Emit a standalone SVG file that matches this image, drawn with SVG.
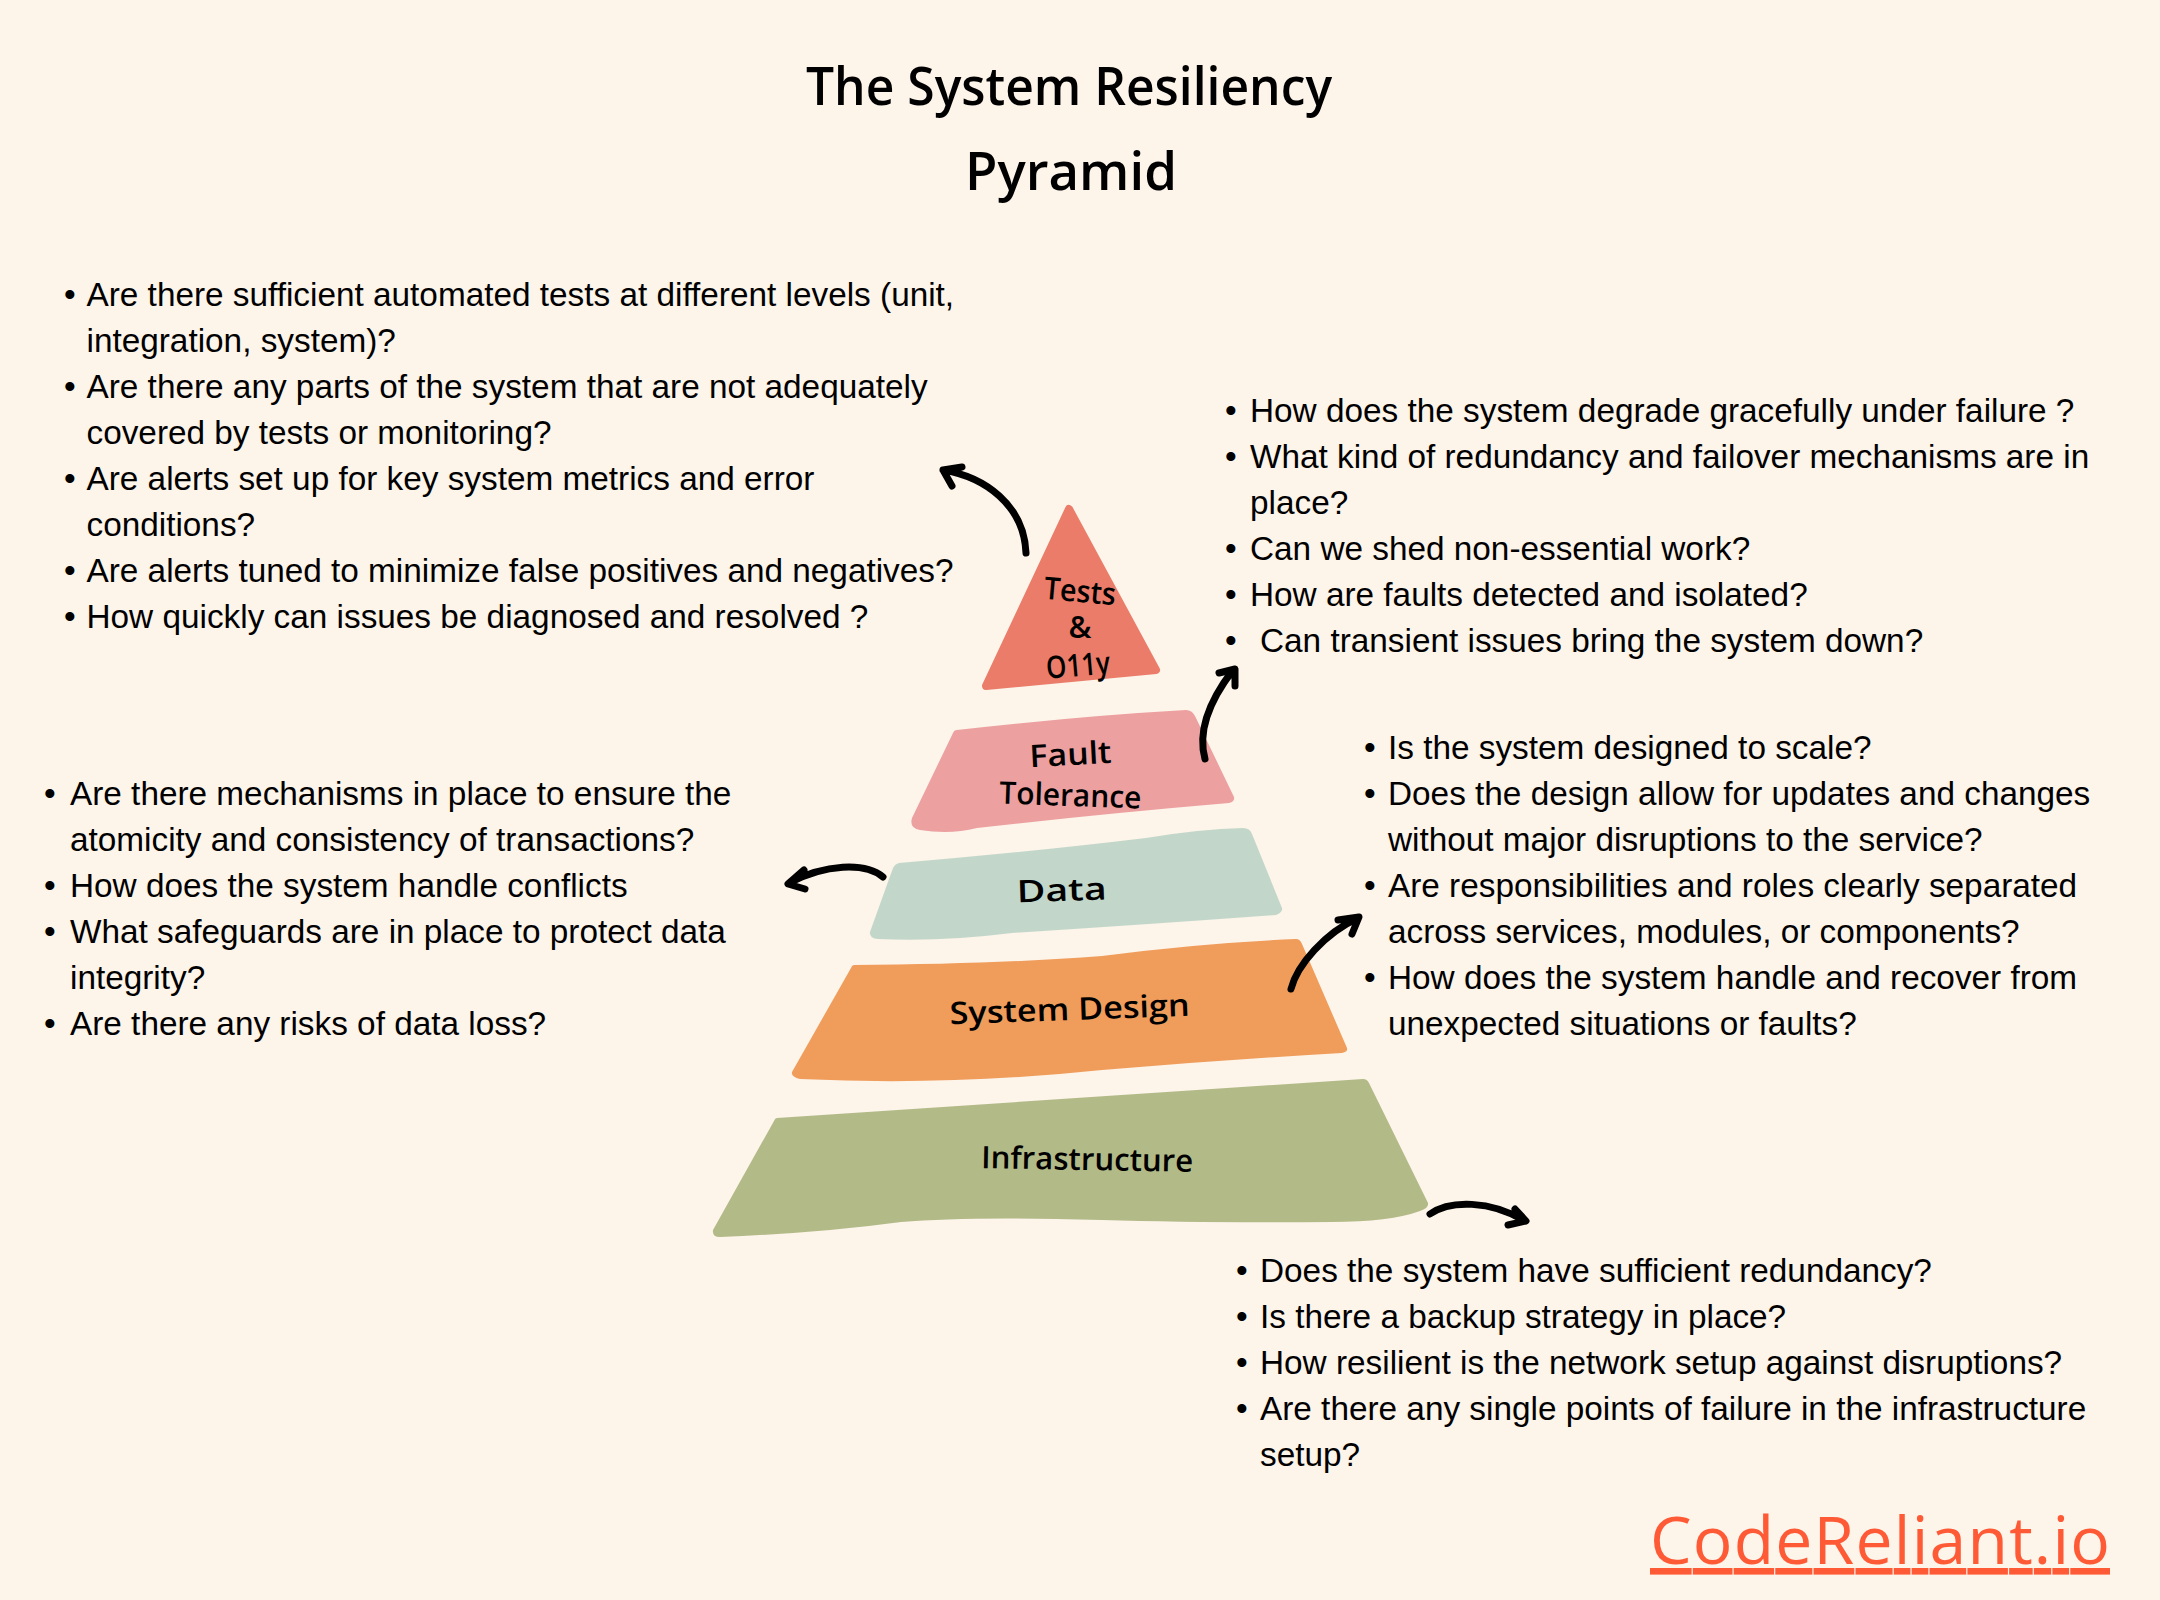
<svg xmlns="http://www.w3.org/2000/svg" width="2160" height="1600" viewBox="0 0 2160 1600">
<style>
.b{font:33.33px "Liberation Sans",Arial,sans-serif;fill:#000}
.h{font-family:"Open Sans","Noto Sans",sans-serif;font-weight:600;fill:#000;text-anchor:middle}
.l{font-size:31px}
.t{font-size:52px}
.a{fill:none;stroke:#000;stroke-width:7;stroke-linecap:round;stroke-linejoin:round}
.n{stroke-linejoin:round;stroke-width:8}
</style>
<rect width="2160" height="1600" fill="#fdf4ea"/>
<g id="title">
<text class="h t" x="1069" y="105" textLength="526" lengthAdjust="spacingAndGlyphs">The System Resiliency</text>
<text class="h t" x="1071" y="190" textLength="212" lengthAdjust="spacingAndGlyphs">Pyramid</text>
</g>
<g id="node-tests">
<path class="n" fill="#ea7c69" stroke="#ea7c69" d="M1069 509L1156 670L986 686Z"/>
<text class="h l" transform="rotate(5 1079 602)" x="1079" y="602" textLength="72" lengthAdjust="spacingAndGlyphs">Tests</text>
<text class="h l" x="1080" y="638">&amp;</text>
<text class="h l" transform="rotate(-5 1079 676)" x="1079" y="676" textLength="64" lengthAdjust="spacingAndGlyphs">O11y</text>
</g>
<g id="node-fault">
<path fill="#eca0a0" d="M957 730Q1080 716 1186 710Q1192 710 1195 716L1234 797Q1235 802 1229 803Q1100 814 977 828Q950 835 920 830Q909 828 912 818L953 733Q954 730 957 730Z"/>
<text class="h l" transform="rotate(-3 1071 765)" x="1071" y="765" textLength="82" lengthAdjust="spacingAndGlyphs">Fault</text>
<text class="h l" transform="rotate(2 1070 806)" x="1070" y="806" textLength="142" lengthAdjust="spacingAndGlyphs">Tolerance</text>
</g>
<g id="node-data">
<path fill="#c2d7ca" d="M899 863Q1030 852 1146 838Q1200 829 1243 828Q1250 828 1252 834L1282 908Q1283 912 1276 915Q1140 925 1012 933Q940 942 878 939Q869 938 870 932L893 868Q895 864 899 863Z"/>
<text class="h l" transform="rotate(-2 1062 901)" x="1062" y="901" textLength="90" lengthAdjust="spacingAndGlyphs">Data</text>
</g>
<g id="node-system">
<path fill="#f09c5b" d="M854 965Q1000 964 1102 956Q1200 943 1296 939Q1300 939 1302 944L1347 1048Q1348 1052 1342 1053Q1220 1060 1102 1070Q950 1086 800 1079Q791 1077 792 1072L851 968Q852 965 854 965Z"/>
<text class="h l" transform="rotate(-2 1070 1020)" x="1070" y="1020" textLength="240" lengthAdjust="spacingAndGlyphs">System Design</text>
</g>
<g id="node-infrastructure">
<path fill="#b2ba88" d="M777 1118L1363 1079Q1367 1079 1369 1083L1428 1203Q1429 1208 1420 1211Q1390 1222 1331 1222Q1200 1223 1102 1220Q970 1216 901 1222Q820 1233 720 1237Q712 1237 713 1230L774 1121Q775 1118 777 1118Z"/>
<text class="h l" transform="rotate(1 1087 1170)" x="1087" y="1170" textLength="212" lengthAdjust="spacingAndGlyphs">Infrastructure</text>
</g>
<g id="connectors">
<path class="a" d="M1026 553C1024 505 985 477 943 470M962 467L943 470L952 486"/>
<path class="a" d="M1205 759C1197 730 1210 700 1233 670M1219 673L1235 669L1235 686"/>
<path class="a" d="M883 877C865 862 825 864 789 883M804 870L788 884L805 889"/>
<path class="a" d="M1291 989C1297 965 1325 933 1358 918M1338 920L1359 917L1352 934"/>
<path class="a" d="M1430 1214C1450 1200 1490 1200 1525 1221M1515 1209L1526 1221L1508 1225"/>
</g>
<g id="notes-tests">
<text class="b" x="64" y="306">•</text><text class="b" x="86.500" y="306">Are there sufficient automated tests at different levels (unit,</text>
<text class="b" x="86.500" y="352">integration, system)?</text>
<text class="b" x="64" y="398">•</text><text class="b" x="86.500" y="398">Are there any parts of the system that are not adequately</text>
<text class="b" x="86.500" y="444">covered by tests or monitoring?</text>
<text class="b" x="64" y="490">•</text><text class="b" x="86.500" y="490">Are alerts set up for key system metrics and error</text>
<text class="b" x="86.500" y="536">conditions?</text>
<text class="b" x="64" y="582">•</text><text class="b" x="86.500" y="582">Are alerts tuned to minimize false positives and negatives?</text>
<text class="b" x="64" y="628">•</text><text class="b" x="86.500" y="628">How quickly can issues be diagnosed and resolved ?</text>
</g>
<g id="notes-fault">
<text class="b" x="1225" y="422">•</text><text class="b" x="1250" y="422">How does the system degrade gracefully under failure ?</text>
<text class="b" x="1225" y="468">•</text><text class="b" x="1250" y="468">What kind of redundancy and failover mechanisms are in</text>
<text class="b" x="1250" y="514">place?</text>
<text class="b" x="1225" y="560">•</text><text class="b" x="1250" y="560">Can we shed non-essential work?</text>
<text class="b" x="1225" y="606">•</text><text class="b" x="1250" y="606">How are faults detected and isolated?</text>
<text class="b" x="1225" y="652">•</text><text class="b" x="1260" y="652">Can transient issues bring the system down?</text>
</g>
<g id="notes-system">
<text class="b" x="1364" y="759">•</text><text class="b" x="1388" y="759">Is the system designed to scale?</text>
<text class="b" x="1364" y="805">•</text><text class="b" x="1388" y="805">Does the design allow for updates and changes</text>
<text class="b" x="1388" y="851">without major disruptions to the service?</text>
<text class="b" x="1364" y="897">•</text><text class="b" x="1388" y="897">Are responsibilities and roles clearly separated</text>
<text class="b" x="1388" y="943">across services, modules, or components?</text>
<text class="b" x="1364" y="989">•</text><text class="b" x="1388" y="989">How does the system handle and recover from</text>
<text class="b" x="1388" y="1035">unexpected situations or faults?</text>
</g>
<g id="notes-data">
<text class="b" x="44" y="805">•</text><text class="b" x="70" y="805">Are there mechanisms in place to ensure the</text>
<text class="b" x="70" y="851">atomicity and consistency of transactions?</text>
<text class="b" x="44" y="897">•</text><text class="b" x="70" y="897">How does the system handle conflicts</text>
<text class="b" x="44" y="943">•</text><text class="b" x="70" y="943">What safeguards are in place to protect data</text>
<text class="b" x="70" y="989">integrity?</text>
<text class="b" x="44" y="1035">•</text><text class="b" x="70" y="1035">Are there any risks of data loss?</text>
</g>
<g id="notes-infrastructure">
<text class="b" x="1236" y="1282">•</text><text class="b" x="1260" y="1282">Does the system have sufficient redundancy?</text>
<text class="b" x="1236" y="1328">•</text><text class="b" x="1260" y="1328">Is there a backup strategy in place?</text>
<text class="b" x="1236" y="1374">•</text><text class="b" x="1260" y="1374">How resilient is the network setup against disruptions?</text>
<text class="b" x="1236" y="1420">•</text><text class="b" x="1260" y="1420">Are there any single points of failure in the infrastructure</text>
<text class="b" x="1260" y="1466">setup?</text>
</g>
<g id="brand">
<text x="1650" y="1564" font-family="'Open Sans','Noto Sans',sans-serif" font-size="66" fill="#ff5a36" text-decoration="underline" textLength="460">CodeReliant.io</text>
</g>
</svg>
